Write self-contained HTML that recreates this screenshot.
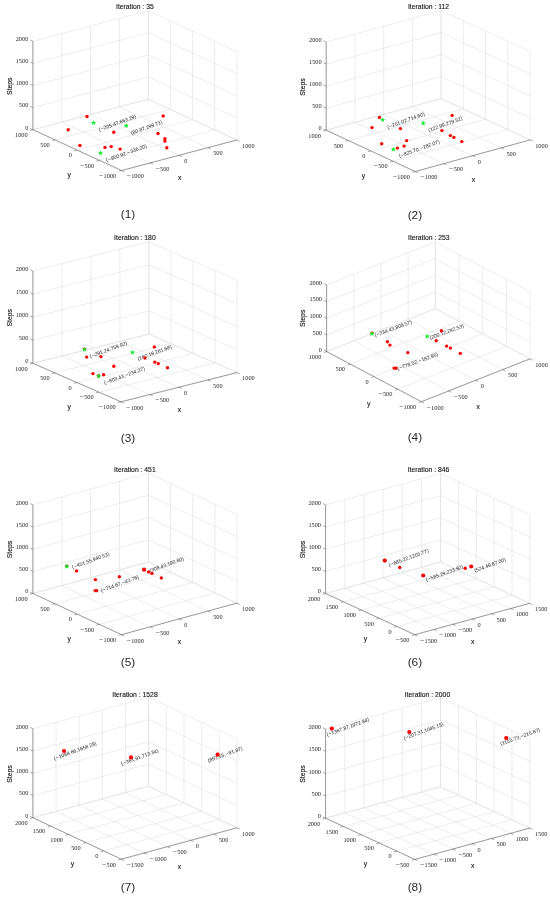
<!DOCTYPE html>
<html><head><meta charset="utf-8"><title>Figure</title>
<style>html,body{margin:0;padding:0;background:#fff}svg{display:block}</style></head>
<body>
<svg width="550" height="899" viewBox="0 0 550 899">
<rect width="550" height="899" fill="#ffffff"/>
<g>
<line x1="121.5" y1="170.5" x2="32.9" y2="129.7" stroke="#dadada" stroke-width="0.5"/>
<line x1="150.35" y1="162.88" x2="61.75" y2="122.07" stroke="#dadada" stroke-width="0.5"/>
<line x1="179.2" y1="155.25" x2="90.6" y2="114.45" stroke="#dadada" stroke-width="0.5"/>
<line x1="208.05" y1="147.62" x2="119.45" y2="106.82" stroke="#dadada" stroke-width="0.5"/>
<line x1="236.9" y1="140" x2="148.3" y2="99.2" stroke="#dadada" stroke-width="0.5"/>
<line x1="121.5" y1="170.5" x2="236.9" y2="140" stroke="#dadada" stroke-width="0.5"/>
<line x1="99.35" y1="160.3" x2="214.75" y2="129.8" stroke="#dadada" stroke-width="0.5"/>
<line x1="77.2" y1="150.1" x2="192.6" y2="119.6" stroke="#dadada" stroke-width="0.5"/>
<line x1="55.05" y1="139.9" x2="170.45" y2="109.4" stroke="#dadada" stroke-width="0.5"/>
<line x1="32.9" y1="129.7" x2="148.3" y2="99.2" stroke="#dadada" stroke-width="0.5"/>
<line x1="32.9" y1="129.7" x2="32.9" y2="41.2" stroke="#dadada" stroke-width="0.5"/>
<line x1="61.75" y1="122.07" x2="61.75" y2="33.57" stroke="#dadada" stroke-width="0.5"/>
<line x1="90.6" y1="114.45" x2="90.6" y2="25.95" stroke="#dadada" stroke-width="0.5"/>
<line x1="119.45" y1="106.82" x2="119.45" y2="18.32" stroke="#dadada" stroke-width="0.5"/>
<line x1="148.3" y1="99.2" x2="148.3" y2="10.7" stroke="#dadada" stroke-width="0.5"/>
<line x1="32.9" y1="129.7" x2="148.3" y2="99.2" stroke="#dadada" stroke-width="0.5"/>
<line x1="32.9" y1="107.57" x2="148.3" y2="77.07" stroke="#dadada" stroke-width="0.5"/>
<line x1="32.9" y1="85.45" x2="148.3" y2="54.95" stroke="#dadada" stroke-width="0.5"/>
<line x1="32.9" y1="63.32" x2="148.3" y2="32.82" stroke="#dadada" stroke-width="0.5"/>
<line x1="32.9" y1="41.2" x2="148.3" y2="10.7" stroke="#dadada" stroke-width="0.5"/>
<line x1="236.9" y1="140" x2="236.9" y2="51.5" stroke="#dadada" stroke-width="0.5"/>
<line x1="214.75" y1="129.8" x2="214.75" y2="41.3" stroke="#dadada" stroke-width="0.5"/>
<line x1="192.6" y1="119.6" x2="192.6" y2="31.1" stroke="#dadada" stroke-width="0.5"/>
<line x1="170.45" y1="109.4" x2="170.45" y2="20.9" stroke="#dadada" stroke-width="0.5"/>
<line x1="148.3" y1="99.2" x2="148.3" y2="10.7" stroke="#dadada" stroke-width="0.5"/>
<line x1="236.9" y1="140" x2="148.3" y2="99.2" stroke="#dadada" stroke-width="0.5"/>
<line x1="236.9" y1="117.88" x2="148.3" y2="77.07" stroke="#dadada" stroke-width="0.5"/>
<line x1="236.9" y1="95.75" x2="148.3" y2="54.95" stroke="#dadada" stroke-width="0.5"/>
<line x1="236.9" y1="73.62" x2="148.3" y2="32.82" stroke="#dadada" stroke-width="0.5"/>
<line x1="236.9" y1="51.5" x2="148.3" y2="10.7" stroke="#dadada" stroke-width="0.5"/>
<line x1="32.9" y1="129.7" x2="32.9" y2="41.2" stroke="#555555" stroke-width="0.55"/>
<line x1="32.9" y1="129.7" x2="121.5" y2="170.5" stroke="#555555" stroke-width="0.55"/>
<line x1="121.5" y1="170.5" x2="236.9" y2="140" stroke="#555555" stroke-width="0.55"/>
<line x1="32.9" y1="129.7" x2="30.18" y2="128.45" stroke="#555555" stroke-width="0.5"/>
<line x1="32.9" y1="107.57" x2="30.18" y2="106.32" stroke="#555555" stroke-width="0.5"/>
<line x1="32.9" y1="85.45" x2="30.18" y2="84.2" stroke="#555555" stroke-width="0.5"/>
<line x1="32.9" y1="63.32" x2="30.18" y2="62.07" stroke="#555555" stroke-width="0.5"/>
<line x1="32.9" y1="41.2" x2="30.18" y2="39.95" stroke="#555555" stroke-width="0.5"/>
<line x1="121.5" y1="170.5" x2="118.6" y2="171.27" stroke="#555555" stroke-width="0.5"/>
<line x1="99.35" y1="160.3" x2="96.45" y2="161.07" stroke="#555555" stroke-width="0.5"/>
<line x1="77.2" y1="150.1" x2="74.3" y2="150.87" stroke="#555555" stroke-width="0.5"/>
<line x1="55.05" y1="139.9" x2="52.15" y2="140.67" stroke="#555555" stroke-width="0.5"/>
<line x1="32.9" y1="129.7" x2="30" y2="130.47" stroke="#555555" stroke-width="0.5"/>
<line x1="121.5" y1="170.5" x2="124.22" y2="171.75" stroke="#555555" stroke-width="0.5"/>
<line x1="150.35" y1="162.88" x2="153.07" y2="164.13" stroke="#555555" stroke-width="0.5"/>
<line x1="179.2" y1="155.25" x2="181.92" y2="156.5" stroke="#555555" stroke-width="0.5"/>
<line x1="208.05" y1="147.62" x2="210.77" y2="148.88" stroke="#555555" stroke-width="0.5"/>
<line x1="236.9" y1="140" x2="239.62" y2="141.25" stroke="#555555" stroke-width="0.5"/>
</g>
<g font-family="'Liberation Serif','DejaVu Serif',serif" font-size="6.3" fill="#262626">
<text x="28.3" y="129.6" text-anchor="end">0</text>
<text x="28.3" y="107.47" text-anchor="end">500</text>
<text x="28.3" y="85.35" text-anchor="end">1000</text>
<text x="28.3" y="63.22" text-anchor="end">1500</text>
<text x="28.3" y="41.1" text-anchor="end">2000</text>
<text x="116.2" y="177.8" text-anchor="end"><tspan font-size="7.6">−</tspan><tspan dx="0.3">1000</tspan></text>
<text x="94.05" y="167.6" text-anchor="end"><tspan font-size="7.6">−</tspan><tspan dx="0.3">500</tspan></text>
<text x="71.9" y="157.4" text-anchor="end">0</text>
<text x="49.75" y="147.2" text-anchor="end">500</text>
<text x="27.6" y="137" text-anchor="end">1000</text>
<text x="126.6" y="178.3"><tspan font-size="7.6">−</tspan><tspan dx="0.3">1000</tspan></text>
<text x="155.45" y="170.67"><tspan font-size="7.6">−</tspan><tspan dx="0.3">500</tspan></text>
<text x="184.3" y="163.05">0</text>
<text x="213.15" y="155.42">500</text>
<text x="242" y="147.8">1000</text>
</g>
<g font-family="'Liberation Sans',Arial,sans-serif" font-size="6.8" fill="#151515" stroke="#151515" stroke-width="0.12" text-anchor="middle">
<text x="134.9" y="8.7">Iteration : 35</text>
<text x="179.6" y="180.2">x</text>
<text x="69.2" y="177">y</text>
<text transform="translate(9.2 86.2) rotate(-90)" x="0" y="2.4">Steps</text>
</g>
<g font-family="'Liberation Sans',Arial,sans-serif" font-size="5.1" fill="#1a1a1a" text-anchor="middle">
<text transform="translate(117.7 123.7) rotate(-20)" x="0" y="1.0">(<tspan dx="0.2">−</tspan><tspan dx="0.3">2</tspan>05.47,663.29)</text>
<text transform="translate(147 128.2) rotate(-20)" x="0" y="1.0">(80.87,299.71)</text>
<text transform="translate(126.6 153.8) rotate(-20)" x="0" y="1.0">(<tspan dx="0.2">−</tspan><tspan dx="0.3">8</tspan>50.92,<tspan dx="0.2">−</tspan><tspan dx="0.3">3</tspan>36.20)</text>
</g>
<g fill="#ff0000">
<circle cx="87" cy="116.5" r="1.7"/>
<circle cx="68.2" cy="129.8" r="1.7"/>
<circle cx="79.9" cy="145.5" r="1.7"/>
<circle cx="113.8" cy="132.2" r="1.7"/>
<circle cx="105" cy="147.4" r="1.7"/>
<circle cx="111.2" cy="146.6" r="1.7"/>
<circle cx="120.1" cy="149.1" r="1.7"/>
<circle cx="163.2" cy="116" r="1.7"/>
<circle cx="158" cy="133.5" r="1.7"/>
<circle cx="164.9" cy="138.8" r="1.7"/>
<circle cx="164.9" cy="141.1" r="1.7"/>
<circle cx="166.8" cy="147.7" r="1.7"/>
</g>
<polygon points="93.6,120.15 94.31,121.93 96.22,122.05 94.74,123.27 95.22,125.12 93.6,124.1 91.98,125.12 92.46,123.27 90.98,122.05 92.89,121.93" fill="#12ee30"/>
<polygon points="126.2,122.95 126.91,124.73 128.82,124.85 127.34,126.07 127.82,127.92 126.2,126.9 124.58,127.92 125.06,126.07 123.58,124.85 125.49,124.73" fill="#12ee30"/>
<polygon points="100.5,150.35 101.21,152.13 103.12,152.25 101.64,153.47 102.12,155.32 100.5,154.3 98.88,155.32 99.36,153.47 97.88,152.25 99.79,152.13" fill="#12ee30"/>
<text x="128" y="218.3" font-family="'Liberation Sans',Arial,sans-serif" font-size="11.8" fill="#2a2a2a" text-anchor="middle">(1)</text>
<g>
<line x1="415.2" y1="171.5" x2="326.2" y2="130.2" stroke="#dadada" stroke-width="0.5"/>
<line x1="443.93" y1="163.6" x2="354.93" y2="122.3" stroke="#dadada" stroke-width="0.5"/>
<line x1="472.65" y1="155.7" x2="383.65" y2="114.4" stroke="#dadada" stroke-width="0.5"/>
<line x1="501.38" y1="147.8" x2="412.38" y2="106.5" stroke="#dadada" stroke-width="0.5"/>
<line x1="530.1" y1="139.9" x2="441.1" y2="98.6" stroke="#dadada" stroke-width="0.5"/>
<line x1="415.2" y1="171.5" x2="530.1" y2="139.9" stroke="#dadada" stroke-width="0.5"/>
<line x1="392.95" y1="161.18" x2="507.85" y2="129.57" stroke="#dadada" stroke-width="0.5"/>
<line x1="370.7" y1="150.85" x2="485.6" y2="119.25" stroke="#dadada" stroke-width="0.5"/>
<line x1="348.45" y1="140.52" x2="463.35" y2="108.92" stroke="#dadada" stroke-width="0.5"/>
<line x1="326.2" y1="130.2" x2="441.1" y2="98.6" stroke="#dadada" stroke-width="0.5"/>
<line x1="326.2" y1="130.2" x2="326.2" y2="42" stroke="#dadada" stroke-width="0.5"/>
<line x1="354.93" y1="122.3" x2="354.93" y2="34.1" stroke="#dadada" stroke-width="0.5"/>
<line x1="383.65" y1="114.4" x2="383.65" y2="26.2" stroke="#dadada" stroke-width="0.5"/>
<line x1="412.38" y1="106.5" x2="412.38" y2="18.3" stroke="#dadada" stroke-width="0.5"/>
<line x1="441.1" y1="98.6" x2="441.1" y2="10.4" stroke="#dadada" stroke-width="0.5"/>
<line x1="326.2" y1="130.2" x2="441.1" y2="98.6" stroke="#dadada" stroke-width="0.5"/>
<line x1="326.2" y1="108.15" x2="441.1" y2="76.55" stroke="#dadada" stroke-width="0.5"/>
<line x1="326.2" y1="86.1" x2="441.1" y2="54.5" stroke="#dadada" stroke-width="0.5"/>
<line x1="326.2" y1="64.05" x2="441.1" y2="32.45" stroke="#dadada" stroke-width="0.5"/>
<line x1="326.2" y1="42" x2="441.1" y2="10.4" stroke="#dadada" stroke-width="0.5"/>
<line x1="530.1" y1="139.9" x2="530.1" y2="51.7" stroke="#dadada" stroke-width="0.5"/>
<line x1="507.85" y1="129.57" x2="507.85" y2="41.37" stroke="#dadada" stroke-width="0.5"/>
<line x1="485.6" y1="119.25" x2="485.6" y2="31.05" stroke="#dadada" stroke-width="0.5"/>
<line x1="463.35" y1="108.92" x2="463.35" y2="20.72" stroke="#dadada" stroke-width="0.5"/>
<line x1="441.1" y1="98.6" x2="441.1" y2="10.4" stroke="#dadada" stroke-width="0.5"/>
<line x1="530.1" y1="139.9" x2="441.1" y2="98.6" stroke="#dadada" stroke-width="0.5"/>
<line x1="530.1" y1="117.85" x2="441.1" y2="76.55" stroke="#dadada" stroke-width="0.5"/>
<line x1="530.1" y1="95.8" x2="441.1" y2="54.5" stroke="#dadada" stroke-width="0.5"/>
<line x1="530.1" y1="73.75" x2="441.1" y2="32.45" stroke="#dadada" stroke-width="0.5"/>
<line x1="530.1" y1="51.7" x2="441.1" y2="10.4" stroke="#dadada" stroke-width="0.5"/>
<line x1="326.2" y1="130.2" x2="326.2" y2="42" stroke="#555555" stroke-width="0.55"/>
<line x1="326.2" y1="130.2" x2="415.2" y2="171.5" stroke="#555555" stroke-width="0.55"/>
<line x1="415.2" y1="171.5" x2="530.1" y2="139.9" stroke="#555555" stroke-width="0.55"/>
<line x1="326.2" y1="130.2" x2="323.48" y2="128.94" stroke="#555555" stroke-width="0.5"/>
<line x1="326.2" y1="108.15" x2="323.48" y2="106.89" stroke="#555555" stroke-width="0.5"/>
<line x1="326.2" y1="86.1" x2="323.48" y2="84.84" stroke="#555555" stroke-width="0.5"/>
<line x1="326.2" y1="64.05" x2="323.48" y2="62.79" stroke="#555555" stroke-width="0.5"/>
<line x1="326.2" y1="42" x2="323.48" y2="40.74" stroke="#555555" stroke-width="0.5"/>
<line x1="415.2" y1="171.5" x2="412.31" y2="172.3" stroke="#555555" stroke-width="0.5"/>
<line x1="392.95" y1="161.18" x2="390.06" y2="161.97" stroke="#555555" stroke-width="0.5"/>
<line x1="370.7" y1="150.85" x2="367.81" y2="151.65" stroke="#555555" stroke-width="0.5"/>
<line x1="348.45" y1="140.52" x2="345.56" y2="141.32" stroke="#555555" stroke-width="0.5"/>
<line x1="326.2" y1="130.2" x2="323.31" y2="131" stroke="#555555" stroke-width="0.5"/>
<line x1="415.2" y1="171.5" x2="417.92" y2="172.76" stroke="#555555" stroke-width="0.5"/>
<line x1="443.93" y1="163.6" x2="446.65" y2="164.86" stroke="#555555" stroke-width="0.5"/>
<line x1="472.65" y1="155.7" x2="475.37" y2="156.96" stroke="#555555" stroke-width="0.5"/>
<line x1="501.38" y1="147.8" x2="504.1" y2="149.06" stroke="#555555" stroke-width="0.5"/>
<line x1="530.1" y1="139.9" x2="532.82" y2="141.16" stroke="#555555" stroke-width="0.5"/>
</g>
<g font-family="'Liberation Serif','DejaVu Serif',serif" font-size="6.3" fill="#262626">
<text x="321.6" y="130.1" text-anchor="end">0</text>
<text x="321.6" y="108.05" text-anchor="end">500</text>
<text x="321.6" y="86" text-anchor="end">1000</text>
<text x="321.6" y="63.95" text-anchor="end">1500</text>
<text x="321.6" y="41.9" text-anchor="end">2000</text>
<text x="409.9" y="178.8" text-anchor="end"><tspan font-size="7.6">−</tspan><tspan dx="0.3">1000</tspan></text>
<text x="387.65" y="168.47" text-anchor="end"><tspan font-size="7.6">−</tspan><tspan dx="0.3">500</tspan></text>
<text x="365.4" y="158.15" text-anchor="end">0</text>
<text x="343.15" y="147.82" text-anchor="end">500</text>
<text x="320.9" y="137.5" text-anchor="end">1000</text>
<text x="420.3" y="179.3"><tspan font-size="7.6">−</tspan><tspan dx="0.3">1000</tspan></text>
<text x="449.03" y="171.4"><tspan font-size="7.6">−</tspan><tspan dx="0.3">500</tspan></text>
<text x="477.75" y="163.5">0</text>
<text x="506.48" y="155.6">500</text>
<text x="535.2" y="147.7">1000</text>
</g>
<g font-family="'Liberation Sans',Arial,sans-serif" font-size="6.8" fill="#151515" stroke="#151515" stroke-width="0.12" text-anchor="middle">
<text x="428.5" y="8.7">Iteration : 112</text>
<text x="473.5" y="181.5">x</text>
<text x="363.5" y="177.9">y</text>
<text transform="translate(302.8 87) rotate(-90)" x="0" y="2.4">Steps</text>
</g>
<g font-family="'Liberation Sans',Arial,sans-serif" font-size="5.1" fill="#1a1a1a" text-anchor="middle">
<text transform="translate(406.1 121.2) rotate(-20)" x="0" y="1.0">(<tspan dx="0.2">−</tspan><tspan dx="0.3">2</tspan>51.02,714.60)</text>
<text transform="translate(445.6 124.9) rotate(-20)" x="0" y="1.0">(122.99,279.52)</text>
<text transform="translate(419.5 149.5) rotate(-20)" x="0" y="1.0">(<tspan dx="0.2">−</tspan><tspan dx="0.3">8</tspan>25.70,<tspan dx="0.2">−</tspan><tspan dx="0.3">2</tspan>82.07)</text>
</g>
<g fill="#ff0000">
<circle cx="379.5" cy="117.4" r="1.7"/>
<circle cx="372" cy="127.6" r="1.7"/>
<circle cx="400.4" cy="128.6" r="1.7"/>
<circle cx="381.7" cy="143.8" r="1.7"/>
<circle cx="406.6" cy="140.6" r="1.7"/>
<circle cx="404.1" cy="146.1" r="1.7"/>
<circle cx="397.4" cy="148.1" r="1.7"/>
<circle cx="452.1" cy="115.4" r="1.7"/>
<circle cx="441.9" cy="130.6" r="1.7"/>
<circle cx="450.4" cy="135.6" r="1.7"/>
<circle cx="453.9" cy="137.4" r="1.7"/>
<circle cx="461.8" cy="141.6" r="1.7"/>
</g>
<polygon points="382.7,117.15 383.41,118.93 385.32,119.05 383.84,120.27 384.32,122.12 382.7,121.1 381.08,122.12 381.56,120.27 380.08,119.05 381.99,118.93" fill="#12ee30"/>
<polygon points="423.2,120.45 423.91,122.23 425.82,122.35 424.34,123.57 424.82,125.42 423.2,124.4 421.58,125.42 422.06,123.57 420.58,122.35 422.49,122.23" fill="#12ee30"/>
<polygon points="393.4,146.55 394.11,148.33 396.02,148.45 394.54,149.67 395.02,151.52 393.4,150.5 391.78,151.52 392.26,149.67 390.78,148.45 392.69,148.33" fill="#12ee30"/>
<text x="414.9" y="218.5" font-family="'Liberation Sans',Arial,sans-serif" font-size="11.8" fill="#2a2a2a" text-anchor="middle">(2)</text>
<g>
<line x1="121" y1="401.8" x2="32.9" y2="363.3" stroke="#dadada" stroke-width="0.5"/>
<line x1="150" y1="394.5" x2="61.9" y2="356" stroke="#dadada" stroke-width="0.5"/>
<line x1="179" y1="387.2" x2="90.9" y2="348.7" stroke="#dadada" stroke-width="0.5"/>
<line x1="208" y1="379.9" x2="119.9" y2="341.4" stroke="#dadada" stroke-width="0.5"/>
<line x1="237" y1="372.6" x2="148.9" y2="334.1" stroke="#dadada" stroke-width="0.5"/>
<line x1="121" y1="401.8" x2="237" y2="372.6" stroke="#dadada" stroke-width="0.5"/>
<line x1="98.97" y1="392.18" x2="214.97" y2="362.98" stroke="#dadada" stroke-width="0.5"/>
<line x1="76.95" y1="382.55" x2="192.95" y2="353.35" stroke="#dadada" stroke-width="0.5"/>
<line x1="54.93" y1="372.93" x2="170.93" y2="343.73" stroke="#dadada" stroke-width="0.5"/>
<line x1="32.9" y1="363.3" x2="148.9" y2="334.1" stroke="#dadada" stroke-width="0.5"/>
<line x1="32.9" y1="363.3" x2="32.9" y2="271" stroke="#dadada" stroke-width="0.5"/>
<line x1="61.9" y1="356" x2="61.9" y2="263.7" stroke="#dadada" stroke-width="0.5"/>
<line x1="90.9" y1="348.7" x2="90.9" y2="256.4" stroke="#dadada" stroke-width="0.5"/>
<line x1="119.9" y1="341.4" x2="119.9" y2="249.1" stroke="#dadada" stroke-width="0.5"/>
<line x1="148.9" y1="334.1" x2="148.9" y2="241.8" stroke="#dadada" stroke-width="0.5"/>
<line x1="32.9" y1="363.3" x2="148.9" y2="334.1" stroke="#dadada" stroke-width="0.5"/>
<line x1="32.9" y1="340.23" x2="148.9" y2="311.03" stroke="#dadada" stroke-width="0.5"/>
<line x1="32.9" y1="317.15" x2="148.9" y2="287.95" stroke="#dadada" stroke-width="0.5"/>
<line x1="32.9" y1="294.08" x2="148.9" y2="264.88" stroke="#dadada" stroke-width="0.5"/>
<line x1="32.9" y1="271" x2="148.9" y2="241.8" stroke="#dadada" stroke-width="0.5"/>
<line x1="237" y1="372.6" x2="237" y2="280.3" stroke="#dadada" stroke-width="0.5"/>
<line x1="214.97" y1="362.98" x2="214.97" y2="270.68" stroke="#dadada" stroke-width="0.5"/>
<line x1="192.95" y1="353.35" x2="192.95" y2="261.05" stroke="#dadada" stroke-width="0.5"/>
<line x1="170.93" y1="343.73" x2="170.93" y2="251.43" stroke="#dadada" stroke-width="0.5"/>
<line x1="148.9" y1="334.1" x2="148.9" y2="241.8" stroke="#dadada" stroke-width="0.5"/>
<line x1="237" y1="372.6" x2="148.9" y2="334.1" stroke="#dadada" stroke-width="0.5"/>
<line x1="237" y1="349.53" x2="148.9" y2="311.03" stroke="#dadada" stroke-width="0.5"/>
<line x1="237" y1="326.45" x2="148.9" y2="287.95" stroke="#dadada" stroke-width="0.5"/>
<line x1="237" y1="303.38" x2="148.9" y2="264.88" stroke="#dadada" stroke-width="0.5"/>
<line x1="237" y1="280.3" x2="148.9" y2="241.8" stroke="#dadada" stroke-width="0.5"/>
<line x1="32.9" y1="363.3" x2="32.9" y2="271" stroke="#555555" stroke-width="0.55"/>
<line x1="32.9" y1="363.3" x2="121" y2="401.8" stroke="#555555" stroke-width="0.55"/>
<line x1="121" y1="401.8" x2="237" y2="372.6" stroke="#555555" stroke-width="0.55"/>
<line x1="32.9" y1="363.3" x2="30.15" y2="362.1" stroke="#555555" stroke-width="0.5"/>
<line x1="32.9" y1="340.23" x2="30.15" y2="339.02" stroke="#555555" stroke-width="0.5"/>
<line x1="32.9" y1="317.15" x2="30.15" y2="315.95" stroke="#555555" stroke-width="0.5"/>
<line x1="32.9" y1="294.08" x2="30.15" y2="292.87" stroke="#555555" stroke-width="0.5"/>
<line x1="32.9" y1="271" x2="30.15" y2="269.8" stroke="#555555" stroke-width="0.5"/>
<line x1="121" y1="401.8" x2="118.09" y2="402.53" stroke="#555555" stroke-width="0.5"/>
<line x1="98.97" y1="392.18" x2="96.07" y2="392.91" stroke="#555555" stroke-width="0.5"/>
<line x1="76.95" y1="382.55" x2="74.04" y2="383.28" stroke="#555555" stroke-width="0.5"/>
<line x1="54.93" y1="372.93" x2="52.02" y2="373.66" stroke="#555555" stroke-width="0.5"/>
<line x1="32.9" y1="363.3" x2="29.99" y2="364.03" stroke="#555555" stroke-width="0.5"/>
<line x1="121" y1="401.8" x2="123.75" y2="403" stroke="#555555" stroke-width="0.5"/>
<line x1="150" y1="394.5" x2="152.75" y2="395.7" stroke="#555555" stroke-width="0.5"/>
<line x1="179" y1="387.2" x2="181.75" y2="388.4" stroke="#555555" stroke-width="0.5"/>
<line x1="208" y1="379.9" x2="210.75" y2="381.1" stroke="#555555" stroke-width="0.5"/>
<line x1="237" y1="372.6" x2="239.75" y2="373.8" stroke="#555555" stroke-width="0.5"/>
</g>
<g font-family="'Liberation Serif','DejaVu Serif',serif" font-size="6.3" fill="#262626">
<text x="28.3" y="363.2" text-anchor="end">0</text>
<text x="28.3" y="340.13" text-anchor="end">500</text>
<text x="28.3" y="317.05" text-anchor="end">1000</text>
<text x="28.3" y="293.98" text-anchor="end">1500</text>
<text x="28.3" y="270.9" text-anchor="end">2000</text>
<text x="115.7" y="409.1" text-anchor="end"><tspan font-size="7.6">−</tspan><tspan dx="0.3">1000</tspan></text>
<text x="93.67" y="399.48" text-anchor="end"><tspan font-size="7.6">−</tspan><tspan dx="0.3">500</tspan></text>
<text x="71.65" y="389.85" text-anchor="end">0</text>
<text x="49.63" y="380.23" text-anchor="end">500</text>
<text x="27.6" y="370.6" text-anchor="end">1000</text>
<text x="126.1" y="409.6"><tspan font-size="7.6">−</tspan><tspan dx="0.3">1000</tspan></text>
<text x="155.1" y="402.3"><tspan font-size="7.6">−</tspan><tspan dx="0.3">500</tspan></text>
<text x="184.1" y="395">0</text>
<text x="213.1" y="387.7">500</text>
<text x="242.1" y="380.4">1000</text>
</g>
<g font-family="'Liberation Sans',Arial,sans-serif" font-size="6.8" fill="#151515" stroke="#151515" stroke-width="0.12" text-anchor="middle">
<text x="134.9" y="240.2">Iteration : 180</text>
<text x="179.5" y="412.2">x</text>
<text x="69.2" y="408.9">y</text>
<text transform="translate(9.5 317.8) rotate(-90)" x="0" y="2.4">Steps</text>
</g>
<g font-family="'Liberation Sans',Arial,sans-serif" font-size="5.1" fill="#1a1a1a" text-anchor="middle">
<text transform="translate(108.6 350.4) rotate(-20)" x="0" y="1.0">(<tspan dx="0.2">−</tspan><tspan dx="0.3">2</tspan>91.24,759.92)</text>
<text transform="translate(154.8 353.4) rotate(-20)" x="0" y="1.0">(160.19,261.68)</text>
<text transform="translate(124.7 376.3) rotate(-20)" x="0" y="1.0">(<tspan dx="0.2">−</tspan><tspan dx="0.3">8</tspan>03.43,<tspan dx="0.2">−</tspan><tspan dx="0.3">2</tspan>34.27)</text>
</g>
<g fill="#ff0000">
<circle cx="84.5" cy="349.1" r="1.7"/>
<circle cx="98.6" cy="375.8" r="1.7"/>
<circle cx="86.7" cy="357.1" r="1.7"/>
<circle cx="100.9" cy="356.6" r="1.7"/>
<circle cx="113.8" cy="366.2" r="1.7"/>
<circle cx="92.9" cy="373.6" r="1.7"/>
<circle cx="103.6" cy="374.8" r="1.7"/>
<circle cx="154.3" cy="346.9" r="1.7"/>
<circle cx="144.9" cy="358.1" r="1.7"/>
<circle cx="154.8" cy="362.1" r="1.7"/>
<circle cx="158.3" cy="363.6" r="1.7"/>
<circle cx="167.5" cy="367.8" r="1.7"/>
</g>
<polygon points="84.4,346.85 85.11,348.63 87.02,348.75 85.54,349.97 86.02,351.82 84.4,350.8 82.78,351.82 83.26,349.97 81.78,348.75 83.69,348.63" fill="#12ee30"/>
<polygon points="132.4,349.65 133.11,351.43 135.02,351.55 133.54,352.77 134.02,354.62 132.4,353.6 130.78,354.62 131.26,352.77 129.78,351.55 131.69,351.43" fill="#12ee30"/>
<polygon points="98.6,373.35 99.31,375.13 101.22,375.25 99.74,376.47 100.22,378.32 98.6,377.3 96.98,378.32 97.46,376.47 95.98,375.25 97.89,375.13" fill="#12ee30"/>
<text x="128" y="441.6" font-family="'Liberation Sans',Arial,sans-serif" font-size="11.8" fill="#2a2a2a" text-anchor="middle">(3)</text>
<g>
<line x1="421.4" y1="401.7" x2="326.6" y2="351.6" stroke="#dadada" stroke-width="0.5"/>
<line x1="448.57" y1="390.98" x2="353.78" y2="340.88" stroke="#dadada" stroke-width="0.5"/>
<line x1="475.75" y1="380.25" x2="380.95" y2="330.15" stroke="#dadada" stroke-width="0.5"/>
<line x1="502.93" y1="369.52" x2="408.13" y2="319.43" stroke="#dadada" stroke-width="0.5"/>
<line x1="530.1" y1="358.8" x2="435.3" y2="308.7" stroke="#dadada" stroke-width="0.5"/>
<line x1="421.4" y1="401.7" x2="530.1" y2="358.8" stroke="#dadada" stroke-width="0.5"/>
<line x1="397.7" y1="389.18" x2="506.4" y2="346.28" stroke="#dadada" stroke-width="0.5"/>
<line x1="374" y1="376.65" x2="482.7" y2="333.75" stroke="#dadada" stroke-width="0.5"/>
<line x1="350.3" y1="364.12" x2="459" y2="321.23" stroke="#dadada" stroke-width="0.5"/>
<line x1="326.6" y1="351.6" x2="435.3" y2="308.7" stroke="#dadada" stroke-width="0.5"/>
<line x1="326.6" y1="351.6" x2="326.6" y2="284.8" stroke="#dadada" stroke-width="0.5"/>
<line x1="353.78" y1="340.88" x2="353.78" y2="274.08" stroke="#dadada" stroke-width="0.5"/>
<line x1="380.95" y1="330.15" x2="380.95" y2="263.35" stroke="#dadada" stroke-width="0.5"/>
<line x1="408.13" y1="319.43" x2="408.13" y2="252.62" stroke="#dadada" stroke-width="0.5"/>
<line x1="435.3" y1="308.7" x2="435.3" y2="241.9" stroke="#dadada" stroke-width="0.5"/>
<line x1="326.6" y1="351.6" x2="435.3" y2="308.7" stroke="#dadada" stroke-width="0.5"/>
<line x1="326.6" y1="334.9" x2="435.3" y2="292" stroke="#dadada" stroke-width="0.5"/>
<line x1="326.6" y1="318.2" x2="435.3" y2="275.3" stroke="#dadada" stroke-width="0.5"/>
<line x1="326.6" y1="301.5" x2="435.3" y2="258.6" stroke="#dadada" stroke-width="0.5"/>
<line x1="326.6" y1="284.8" x2="435.3" y2="241.9" stroke="#dadada" stroke-width="0.5"/>
<line x1="530.1" y1="358.8" x2="530.1" y2="292" stroke="#dadada" stroke-width="0.5"/>
<line x1="506.4" y1="346.28" x2="506.4" y2="279.48" stroke="#dadada" stroke-width="0.5"/>
<line x1="482.7" y1="333.75" x2="482.7" y2="266.95" stroke="#dadada" stroke-width="0.5"/>
<line x1="459" y1="321.23" x2="459" y2="254.43" stroke="#dadada" stroke-width="0.5"/>
<line x1="435.3" y1="308.7" x2="435.3" y2="241.9" stroke="#dadada" stroke-width="0.5"/>
<line x1="530.1" y1="358.8" x2="435.3" y2="308.7" stroke="#dadada" stroke-width="0.5"/>
<line x1="530.1" y1="342.1" x2="435.3" y2="292" stroke="#dadada" stroke-width="0.5"/>
<line x1="530.1" y1="325.4" x2="435.3" y2="275.3" stroke="#dadada" stroke-width="0.5"/>
<line x1="530.1" y1="308.7" x2="435.3" y2="258.6" stroke="#dadada" stroke-width="0.5"/>
<line x1="530.1" y1="292" x2="435.3" y2="241.9" stroke="#dadada" stroke-width="0.5"/>
<line x1="326.6" y1="351.6" x2="326.6" y2="284.8" stroke="#555555" stroke-width="0.55"/>
<line x1="326.6" y1="351.6" x2="421.4" y2="401.7" stroke="#555555" stroke-width="0.55"/>
<line x1="421.4" y1="401.7" x2="530.1" y2="358.8" stroke="#555555" stroke-width="0.55"/>
<line x1="326.6" y1="351.6" x2="323.95" y2="350.2" stroke="#555555" stroke-width="0.5"/>
<line x1="326.6" y1="334.9" x2="323.95" y2="333.5" stroke="#555555" stroke-width="0.5"/>
<line x1="326.6" y1="318.2" x2="323.95" y2="316.8" stroke="#555555" stroke-width="0.5"/>
<line x1="326.6" y1="301.5" x2="323.95" y2="300.1" stroke="#555555" stroke-width="0.5"/>
<line x1="326.6" y1="284.8" x2="323.95" y2="283.4" stroke="#555555" stroke-width="0.5"/>
<line x1="421.4" y1="401.7" x2="418.61" y2="402.8" stroke="#555555" stroke-width="0.5"/>
<line x1="397.7" y1="389.18" x2="394.91" y2="390.28" stroke="#555555" stroke-width="0.5"/>
<line x1="374" y1="376.65" x2="371.21" y2="377.75" stroke="#555555" stroke-width="0.5"/>
<line x1="350.3" y1="364.12" x2="347.51" y2="365.23" stroke="#555555" stroke-width="0.5"/>
<line x1="326.6" y1="351.6" x2="323.81" y2="352.7" stroke="#555555" stroke-width="0.5"/>
<line x1="421.4" y1="401.7" x2="424.05" y2="403.1" stroke="#555555" stroke-width="0.5"/>
<line x1="448.57" y1="390.98" x2="451.23" y2="392.38" stroke="#555555" stroke-width="0.5"/>
<line x1="475.75" y1="380.25" x2="478.4" y2="381.65" stroke="#555555" stroke-width="0.5"/>
<line x1="502.93" y1="369.52" x2="505.58" y2="370.93" stroke="#555555" stroke-width="0.5"/>
<line x1="530.1" y1="358.8" x2="532.75" y2="360.2" stroke="#555555" stroke-width="0.5"/>
</g>
<g font-family="'Liberation Serif','DejaVu Serif',serif" font-size="6.3" fill="#262626">
<text x="322" y="351.5" text-anchor="end">0</text>
<text x="322" y="334.8" text-anchor="end">500</text>
<text x="322" y="318.1" text-anchor="end">1000</text>
<text x="322" y="301.4" text-anchor="end">1500</text>
<text x="322" y="284.7" text-anchor="end">2000</text>
<text x="416.1" y="409" text-anchor="end"><tspan font-size="7.6">−</tspan><tspan dx="0.3">1000</tspan></text>
<text x="392.4" y="396.48" text-anchor="end"><tspan font-size="7.6">−</tspan><tspan dx="0.3">500</tspan></text>
<text x="368.7" y="383.95" text-anchor="end">0</text>
<text x="345" y="371.43" text-anchor="end">500</text>
<text x="321.3" y="358.9" text-anchor="end">1000</text>
<text x="426.5" y="409.5"><tspan font-size="7.6">−</tspan><tspan dx="0.3">1000</tspan></text>
<text x="453.68" y="398.78"><tspan font-size="7.6">−</tspan><tspan dx="0.3">500</tspan></text>
<text x="480.85" y="388.05">0</text>
<text x="508.03" y="377.32">500</text>
<text x="535.2" y="366.6">1000</text>
</g>
<g font-family="'Liberation Sans',Arial,sans-serif" font-size="6.8" fill="#151515" stroke="#151515" stroke-width="0.12" text-anchor="middle">
<text x="428.8" y="240.2">Iteration : 253</text>
<text x="478.3" y="408.5">x</text>
<text x="368.7" y="405.9">y</text>
<text transform="translate(303 318.4) rotate(-90)" x="0" y="2.4">Steps</text>
</g>
<g font-family="'Liberation Sans',Arial,sans-serif" font-size="5.1" fill="#1a1a1a" text-anchor="middle">
<text transform="translate(393.4 329.2) rotate(-20)" x="0" y="1.0">(<tspan dx="0.2">−</tspan><tspan dx="0.3">3</tspan>34.43,808.57)</text>
<text transform="translate(446.9 332.4) rotate(-20)" x="0" y="1.0">(200.12,242.53)</text>
<text transform="translate(417.9 362.1) rotate(-20)" x="0" y="1.0">(<tspan dx="0.2">−</tspan><tspan dx="0.3">7</tspan>79.52,<tspan dx="0.2">−</tspan><tspan dx="0.3">1</tspan>82.95)</text>
</g>
<g fill="#ff0000">
<circle cx="372" cy="333.2" r="1.7"/>
<circle cx="387.4" cy="341.7" r="1.7"/>
<circle cx="389.9" cy="345.1" r="1.7"/>
<circle cx="407.8" cy="352.6" r="1.7"/>
<circle cx="394.1" cy="368.1" r="1.7"/>
<circle cx="395.9" cy="368.3" r="1.7"/>
<circle cx="441.4" cy="330.7" r="1.7"/>
<circle cx="436.2" cy="340.7" r="1.7"/>
<circle cx="446.6" cy="346.1" r="1.7"/>
<circle cx="450.4" cy="348.1" r="1.7"/>
<circle cx="460.3" cy="353.4" r="1.7"/>
</g>
<polygon points="372,330.95 372.71,332.73 374.62,332.85 373.14,334.07 373.62,335.92 372,334.9 370.38,335.92 370.86,334.07 369.38,332.85 371.29,332.73" fill="#12ee30"/>
<polygon points="427.2,333.65 427.91,335.43 429.82,335.55 428.34,336.77 428.82,338.62 427.2,337.6 425.58,338.62 426.06,336.77 424.58,335.55 426.49,335.43" fill="#12ee30"/>
<text x="414.9" y="441.2" font-family="'Liberation Sans',Arial,sans-serif" font-size="11.8" fill="#2a2a2a" text-anchor="middle">(4)</text>
<g>
<line x1="121.5" y1="634.7" x2="32.9" y2="593.5" stroke="#dadada" stroke-width="0.5"/>
<line x1="150.38" y1="626.8" x2="61.78" y2="585.6" stroke="#dadada" stroke-width="0.5"/>
<line x1="179.25" y1="618.9" x2="90.65" y2="577.7" stroke="#dadada" stroke-width="0.5"/>
<line x1="208.12" y1="611" x2="119.53" y2="569.8" stroke="#dadada" stroke-width="0.5"/>
<line x1="237" y1="603.1" x2="148.4" y2="561.9" stroke="#dadada" stroke-width="0.5"/>
<line x1="121.5" y1="634.7" x2="237" y2="603.1" stroke="#dadada" stroke-width="0.5"/>
<line x1="99.35" y1="624.4" x2="214.85" y2="592.8" stroke="#dadada" stroke-width="0.5"/>
<line x1="77.2" y1="614.1" x2="192.7" y2="582.5" stroke="#dadada" stroke-width="0.5"/>
<line x1="55.05" y1="603.8" x2="170.55" y2="572.2" stroke="#dadada" stroke-width="0.5"/>
<line x1="32.9" y1="593.5" x2="148.4" y2="561.9" stroke="#dadada" stroke-width="0.5"/>
<line x1="32.9" y1="593.5" x2="32.9" y2="504.9" stroke="#dadada" stroke-width="0.5"/>
<line x1="61.78" y1="585.6" x2="61.78" y2="497" stroke="#dadada" stroke-width="0.5"/>
<line x1="90.65" y1="577.7" x2="90.65" y2="489.1" stroke="#dadada" stroke-width="0.5"/>
<line x1="119.53" y1="569.8" x2="119.53" y2="481.2" stroke="#dadada" stroke-width="0.5"/>
<line x1="148.4" y1="561.9" x2="148.4" y2="473.3" stroke="#dadada" stroke-width="0.5"/>
<line x1="32.9" y1="593.5" x2="148.4" y2="561.9" stroke="#dadada" stroke-width="0.5"/>
<line x1="32.9" y1="571.35" x2="148.4" y2="539.75" stroke="#dadada" stroke-width="0.5"/>
<line x1="32.9" y1="549.2" x2="148.4" y2="517.6" stroke="#dadada" stroke-width="0.5"/>
<line x1="32.9" y1="527.05" x2="148.4" y2="495.45" stroke="#dadada" stroke-width="0.5"/>
<line x1="32.9" y1="504.9" x2="148.4" y2="473.3" stroke="#dadada" stroke-width="0.5"/>
<line x1="237" y1="603.1" x2="237" y2="514.5" stroke="#dadada" stroke-width="0.5"/>
<line x1="214.85" y1="592.8" x2="214.85" y2="504.2" stroke="#dadada" stroke-width="0.5"/>
<line x1="192.7" y1="582.5" x2="192.7" y2="493.9" stroke="#dadada" stroke-width="0.5"/>
<line x1="170.55" y1="572.2" x2="170.55" y2="483.6" stroke="#dadada" stroke-width="0.5"/>
<line x1="148.4" y1="561.9" x2="148.4" y2="473.3" stroke="#dadada" stroke-width="0.5"/>
<line x1="237" y1="603.1" x2="148.4" y2="561.9" stroke="#dadada" stroke-width="0.5"/>
<line x1="237" y1="580.95" x2="148.4" y2="539.75" stroke="#dadada" stroke-width="0.5"/>
<line x1="237" y1="558.8" x2="148.4" y2="517.6" stroke="#dadada" stroke-width="0.5"/>
<line x1="237" y1="536.65" x2="148.4" y2="495.45" stroke="#dadada" stroke-width="0.5"/>
<line x1="237" y1="514.5" x2="148.4" y2="473.3" stroke="#dadada" stroke-width="0.5"/>
<line x1="32.9" y1="593.5" x2="32.9" y2="504.9" stroke="#555555" stroke-width="0.55"/>
<line x1="32.9" y1="593.5" x2="121.5" y2="634.7" stroke="#555555" stroke-width="0.55"/>
<line x1="121.5" y1="634.7" x2="237" y2="603.1" stroke="#555555" stroke-width="0.55"/>
<line x1="32.9" y1="593.5" x2="30.18" y2="592.24" stroke="#555555" stroke-width="0.5"/>
<line x1="32.9" y1="571.35" x2="30.18" y2="570.09" stroke="#555555" stroke-width="0.5"/>
<line x1="32.9" y1="549.2" x2="30.18" y2="547.94" stroke="#555555" stroke-width="0.5"/>
<line x1="32.9" y1="527.05" x2="30.18" y2="525.79" stroke="#555555" stroke-width="0.5"/>
<line x1="32.9" y1="504.9" x2="30.18" y2="503.64" stroke="#555555" stroke-width="0.5"/>
<line x1="121.5" y1="634.7" x2="118.61" y2="635.49" stroke="#555555" stroke-width="0.5"/>
<line x1="99.35" y1="624.4" x2="96.46" y2="625.19" stroke="#555555" stroke-width="0.5"/>
<line x1="77.2" y1="614.1" x2="74.31" y2="614.89" stroke="#555555" stroke-width="0.5"/>
<line x1="55.05" y1="603.8" x2="52.16" y2="604.59" stroke="#555555" stroke-width="0.5"/>
<line x1="32.9" y1="593.5" x2="30.01" y2="594.29" stroke="#555555" stroke-width="0.5"/>
<line x1="121.5" y1="634.7" x2="124.22" y2="635.96" stroke="#555555" stroke-width="0.5"/>
<line x1="150.38" y1="626.8" x2="153.1" y2="628.06" stroke="#555555" stroke-width="0.5"/>
<line x1="179.25" y1="618.9" x2="181.97" y2="620.16" stroke="#555555" stroke-width="0.5"/>
<line x1="208.12" y1="611" x2="210.85" y2="612.26" stroke="#555555" stroke-width="0.5"/>
<line x1="237" y1="603.1" x2="239.72" y2="604.36" stroke="#555555" stroke-width="0.5"/>
</g>
<g font-family="'Liberation Serif','DejaVu Serif',serif" font-size="6.3" fill="#262626">
<text x="28.3" y="593.4" text-anchor="end">0</text>
<text x="28.3" y="571.25" text-anchor="end">500</text>
<text x="28.3" y="549.1" text-anchor="end">1000</text>
<text x="28.3" y="526.95" text-anchor="end">1500</text>
<text x="28.3" y="504.8" text-anchor="end">2000</text>
<text x="116.2" y="642" text-anchor="end"><tspan font-size="7.6">−</tspan><tspan dx="0.3">1000</tspan></text>
<text x="94.05" y="631.7" text-anchor="end"><tspan font-size="7.6">−</tspan><tspan dx="0.3">500</tspan></text>
<text x="71.9" y="621.4" text-anchor="end">0</text>
<text x="49.75" y="611.1" text-anchor="end">500</text>
<text x="27.6" y="600.8" text-anchor="end">1000</text>
<text x="126.6" y="642.5"><tspan font-size="7.6">−</tspan><tspan dx="0.3">1000</tspan></text>
<text x="155.47" y="634.6"><tspan font-size="7.6">−</tspan><tspan dx="0.3">500</tspan></text>
<text x="184.35" y="626.7">0</text>
<text x="213.22" y="618.8">500</text>
<text x="242.1" y="610.9">1000</text>
</g>
<g font-family="'Liberation Sans',Arial,sans-serif" font-size="6.8" fill="#151515" stroke="#151515" stroke-width="0.12" text-anchor="middle">
<text x="134.9" y="472.4">Iteration : 451</text>
<text x="179.5" y="644.2">x</text>
<text x="69.2" y="640.9">y</text>
<text transform="translate(9.5 549.6) rotate(-90)" x="0" y="2.4">Steps</text>
</g>
<g font-family="'Liberation Sans',Arial,sans-serif" font-size="5.1" fill="#1a1a1a" text-anchor="middle">
<text transform="translate(90.9 561.2) rotate(-20)" x="0" y="1.0">(<tspan dx="0.2">−</tspan><tspan dx="0.3">4</tspan>51.55,940.53)</text>
<text transform="translate(166.9 565.3) rotate(-20)" x="0" y="1.0">(308.43,190.60)</text>
<text transform="translate(120 584.4) rotate(-20)" x="0" y="1.0">(<tspan dx="0.2">−</tspan><tspan dx="0.3">7</tspan>14.67,<tspan dx="0.2">−</tspan><tspan dx="0.3">4</tspan>3.76)</text>
</g>
<polygon points="143.9,567.2 144.49,568.69 146.09,568.79 144.85,569.81 145.25,571.36 143.9,570.5 142.55,571.36 142.95,569.81 141.71,568.79 143.31,568.69" fill="#12ee30"/>
<g fill="#ff0000">
<circle cx="66.8" cy="566.1" r="1.7"/>
<circle cx="76.5" cy="570.9" r="1.7"/>
<circle cx="95.4" cy="579.6" r="1.7"/>
<circle cx="119.4" cy="576.7" r="1.7"/>
<circle cx="95.2" cy="590.6" r="1.7"/>
<circle cx="96.6" cy="590.6" r="1.7"/>
<circle cx="144.1" cy="569.7" r="2.1"/>
<circle cx="148.6" cy="571.9" r="1.7"/>
<circle cx="151.9" cy="573.4" r="1.7"/>
<circle cx="161.3" cy="577.9" r="1.7"/>
</g>
<polygon points="66.8,563.75 67.51,565.53 69.42,565.65 67.94,566.87 68.42,568.72 66.8,567.7 65.18,568.72 65.66,566.87 64.18,565.65 66.09,565.53" fill="#12ee30"/>
<text x="128" y="666.3" font-family="'Liberation Sans',Arial,sans-serif" font-size="11.8" fill="#2a2a2a" text-anchor="middle">(5)</text>
<g>
<line x1="414.8" y1="634.7" x2="325.6" y2="593.5" stroke="#dadada" stroke-width="0.5"/>
<line x1="433.97" y1="629.47" x2="344.77" y2="588.27" stroke="#dadada" stroke-width="0.5"/>
<line x1="453.13" y1="624.23" x2="363.93" y2="583.03" stroke="#dadada" stroke-width="0.5"/>
<line x1="472.3" y1="619" x2="383.1" y2="577.8" stroke="#dadada" stroke-width="0.5"/>
<line x1="491.47" y1="613.77" x2="402.27" y2="572.57" stroke="#dadada" stroke-width="0.5"/>
<line x1="510.63" y1="608.53" x2="421.43" y2="567.33" stroke="#dadada" stroke-width="0.5"/>
<line x1="529.8" y1="603.3" x2="440.6" y2="562.1" stroke="#dadada" stroke-width="0.5"/>
<line x1="414.8" y1="634.7" x2="529.8" y2="603.3" stroke="#dadada" stroke-width="0.5"/>
<line x1="396.96" y1="626.46" x2="511.96" y2="595.06" stroke="#dadada" stroke-width="0.5"/>
<line x1="379.12" y1="618.22" x2="494.12" y2="586.82" stroke="#dadada" stroke-width="0.5"/>
<line x1="361.28" y1="609.98" x2="476.28" y2="578.58" stroke="#dadada" stroke-width="0.5"/>
<line x1="343.44" y1="601.74" x2="458.44" y2="570.34" stroke="#dadada" stroke-width="0.5"/>
<line x1="325.6" y1="593.5" x2="440.6" y2="562.1" stroke="#dadada" stroke-width="0.5"/>
<line x1="325.6" y1="593.5" x2="325.6" y2="504.9" stroke="#dadada" stroke-width="0.5"/>
<line x1="344.77" y1="588.27" x2="344.77" y2="499.67" stroke="#dadada" stroke-width="0.5"/>
<line x1="363.93" y1="583.03" x2="363.93" y2="494.43" stroke="#dadada" stroke-width="0.5"/>
<line x1="383.1" y1="577.8" x2="383.1" y2="489.2" stroke="#dadada" stroke-width="0.5"/>
<line x1="402.27" y1="572.57" x2="402.27" y2="483.97" stroke="#dadada" stroke-width="0.5"/>
<line x1="421.43" y1="567.33" x2="421.43" y2="478.73" stroke="#dadada" stroke-width="0.5"/>
<line x1="440.6" y1="562.1" x2="440.6" y2="473.5" stroke="#dadada" stroke-width="0.5"/>
<line x1="325.6" y1="593.5" x2="440.6" y2="562.1" stroke="#dadada" stroke-width="0.5"/>
<line x1="325.6" y1="571.35" x2="440.6" y2="539.95" stroke="#dadada" stroke-width="0.5"/>
<line x1="325.6" y1="549.2" x2="440.6" y2="517.8" stroke="#dadada" stroke-width="0.5"/>
<line x1="325.6" y1="527.05" x2="440.6" y2="495.65" stroke="#dadada" stroke-width="0.5"/>
<line x1="325.6" y1="504.9" x2="440.6" y2="473.5" stroke="#dadada" stroke-width="0.5"/>
<line x1="529.8" y1="603.3" x2="529.8" y2="514.7" stroke="#dadada" stroke-width="0.5"/>
<line x1="511.96" y1="595.06" x2="511.96" y2="506.46" stroke="#dadada" stroke-width="0.5"/>
<line x1="494.12" y1="586.82" x2="494.12" y2="498.22" stroke="#dadada" stroke-width="0.5"/>
<line x1="476.28" y1="578.58" x2="476.28" y2="489.98" stroke="#dadada" stroke-width="0.5"/>
<line x1="458.44" y1="570.34" x2="458.44" y2="481.74" stroke="#dadada" stroke-width="0.5"/>
<line x1="440.6" y1="562.1" x2="440.6" y2="473.5" stroke="#dadada" stroke-width="0.5"/>
<line x1="529.8" y1="603.3" x2="440.6" y2="562.1" stroke="#dadada" stroke-width="0.5"/>
<line x1="529.8" y1="581.15" x2="440.6" y2="539.95" stroke="#dadada" stroke-width="0.5"/>
<line x1="529.8" y1="559" x2="440.6" y2="517.8" stroke="#dadada" stroke-width="0.5"/>
<line x1="529.8" y1="536.85" x2="440.6" y2="495.65" stroke="#dadada" stroke-width="0.5"/>
<line x1="529.8" y1="514.7" x2="440.6" y2="473.5" stroke="#dadada" stroke-width="0.5"/>
<line x1="325.6" y1="593.5" x2="325.6" y2="504.9" stroke="#555555" stroke-width="0.55"/>
<line x1="325.6" y1="593.5" x2="414.8" y2="634.7" stroke="#555555" stroke-width="0.55"/>
<line x1="414.8" y1="634.7" x2="529.8" y2="603.3" stroke="#555555" stroke-width="0.55"/>
<line x1="325.6" y1="593.5" x2="322.88" y2="592.24" stroke="#555555" stroke-width="0.5"/>
<line x1="325.6" y1="571.35" x2="322.88" y2="570.09" stroke="#555555" stroke-width="0.5"/>
<line x1="325.6" y1="549.2" x2="322.88" y2="547.94" stroke="#555555" stroke-width="0.5"/>
<line x1="325.6" y1="527.05" x2="322.88" y2="525.79" stroke="#555555" stroke-width="0.5"/>
<line x1="325.6" y1="504.9" x2="322.88" y2="503.64" stroke="#555555" stroke-width="0.5"/>
<line x1="414.8" y1="634.7" x2="411.91" y2="635.49" stroke="#555555" stroke-width="0.5"/>
<line x1="396.96" y1="626.46" x2="394.07" y2="627.25" stroke="#555555" stroke-width="0.5"/>
<line x1="379.12" y1="618.22" x2="376.23" y2="619.01" stroke="#555555" stroke-width="0.5"/>
<line x1="361.28" y1="609.98" x2="358.39" y2="610.77" stroke="#555555" stroke-width="0.5"/>
<line x1="343.44" y1="601.74" x2="340.55" y2="602.53" stroke="#555555" stroke-width="0.5"/>
<line x1="325.6" y1="593.5" x2="322.71" y2="594.29" stroke="#555555" stroke-width="0.5"/>
<line x1="414.8" y1="634.7" x2="417.52" y2="635.96" stroke="#555555" stroke-width="0.5"/>
<line x1="433.97" y1="629.47" x2="436.69" y2="630.72" stroke="#555555" stroke-width="0.5"/>
<line x1="453.13" y1="624.23" x2="455.86" y2="625.49" stroke="#555555" stroke-width="0.5"/>
<line x1="472.3" y1="619" x2="475.02" y2="620.26" stroke="#555555" stroke-width="0.5"/>
<line x1="491.47" y1="613.77" x2="494.19" y2="615.02" stroke="#555555" stroke-width="0.5"/>
<line x1="510.63" y1="608.53" x2="513.36" y2="609.79" stroke="#555555" stroke-width="0.5"/>
<line x1="529.8" y1="603.3" x2="532.52" y2="604.56" stroke="#555555" stroke-width="0.5"/>
</g>
<g font-family="'Liberation Serif','DejaVu Serif',serif" font-size="6.3" fill="#262626">
<text x="321" y="593.4" text-anchor="end">0</text>
<text x="321" y="571.25" text-anchor="end">500</text>
<text x="321" y="549.1" text-anchor="end">1000</text>
<text x="321" y="526.95" text-anchor="end">1500</text>
<text x="321" y="504.8" text-anchor="end">2000</text>
<text x="409.5" y="642" text-anchor="end"><tspan font-size="7.6">−</tspan><tspan dx="0.3">500</tspan></text>
<text x="391.66" y="633.76" text-anchor="end">0</text>
<text x="373.82" y="625.52" text-anchor="end">500</text>
<text x="355.98" y="617.28" text-anchor="end">1000</text>
<text x="338.14" y="609.04" text-anchor="end">1500</text>
<text x="320.3" y="600.8" text-anchor="end">2000</text>
<text x="419.9" y="642.5"><tspan font-size="7.6">−</tspan><tspan dx="0.3">1500</tspan></text>
<text x="439.07" y="637.27"><tspan font-size="7.6">−</tspan><tspan dx="0.3">1000</tspan></text>
<text x="458.23" y="632.03"><tspan font-size="7.6">−</tspan><tspan dx="0.3">500</tspan></text>
<text x="477.4" y="626.8">0</text>
<text x="496.57" y="621.57">500</text>
<text x="515.73" y="616.33">1000</text>
<text x="534.9" y="611.1">1500</text>
</g>
<g font-family="'Liberation Sans',Arial,sans-serif" font-size="6.8" fill="#151515" stroke="#151515" stroke-width="0.12" text-anchor="middle">
<text x="428.5" y="472.4">Iteration : 846</text>
<text x="472.8" y="644.2">x</text>
<text x="365.5" y="640.9">y</text>
<text transform="translate(302.3 549.6) rotate(-90)" x="0" y="2.4">Steps</text>
</g>
<g font-family="'Liberation Sans',Arial,sans-serif" font-size="5.1" fill="#1a1a1a" text-anchor="middle">
<text transform="translate(408.8 558.5) rotate(-20)" x="0" y="1.0">(<tspan dx="0.2">−</tspan><tspan dx="0.3">6</tspan>85.22,1203.77)</text>
<text transform="translate(444.7 573.9) rotate(-20)" x="0" y="1.0">(<tspan dx="0.2">−</tspan><tspan dx="0.3">5</tspan>85.29,233.92)</text>
<text transform="translate(490.2 565.7) rotate(-20)" x="0" y="1.0">(524.49,87.00)</text>
</g>
<polygon points="384.5,558 385.09,559.49 386.69,559.59 385.45,560.61 385.85,562.16 384.5,561.3 383.15,562.16 383.55,560.61 382.31,559.59 383.91,559.49" fill="#12ee30"/>
<g fill="#ff0000">
<circle cx="384.8" cy="560.6" r="2.1"/>
<circle cx="399.7" cy="567.5" r="1.7"/>
<circle cx="423.2" cy="575.5" r="2.1"/>
<circle cx="465.2" cy="568.2" r="1.7"/>
<circle cx="471.2" cy="566.5" r="2.1"/>
</g>
<text x="414.9" y="666" font-family="'Liberation Sans',Arial,sans-serif" font-size="11.8" fill="#2a2a2a" text-anchor="middle">(6)</text>
<g>
<line x1="121.3" y1="859.2" x2="32.9" y2="817.7" stroke="#dadada" stroke-width="0.5"/>
<line x1="144.44" y1="852.92" x2="56.04" y2="811.42" stroke="#dadada" stroke-width="0.5"/>
<line x1="167.58" y1="846.64" x2="79.18" y2="805.14" stroke="#dadada" stroke-width="0.5"/>
<line x1="190.72" y1="840.36" x2="102.32" y2="798.86" stroke="#dadada" stroke-width="0.5"/>
<line x1="213.86" y1="834.08" x2="125.46" y2="792.58" stroke="#dadada" stroke-width="0.5"/>
<line x1="237" y1="827.8" x2="148.6" y2="786.3" stroke="#dadada" stroke-width="0.5"/>
<line x1="121.3" y1="859.2" x2="237" y2="827.8" stroke="#dadada" stroke-width="0.5"/>
<line x1="103.62" y1="850.9" x2="219.32" y2="819.5" stroke="#dadada" stroke-width="0.5"/>
<line x1="85.94" y1="842.6" x2="201.64" y2="811.2" stroke="#dadada" stroke-width="0.5"/>
<line x1="68.26" y1="834.3" x2="183.96" y2="802.9" stroke="#dadada" stroke-width="0.5"/>
<line x1="50.58" y1="826" x2="166.28" y2="794.6" stroke="#dadada" stroke-width="0.5"/>
<line x1="32.9" y1="817.7" x2="148.6" y2="786.3" stroke="#dadada" stroke-width="0.5"/>
<line x1="32.9" y1="817.7" x2="32.9" y2="728.7" stroke="#dadada" stroke-width="0.5"/>
<line x1="56.04" y1="811.42" x2="56.04" y2="722.42" stroke="#dadada" stroke-width="0.5"/>
<line x1="79.18" y1="805.14" x2="79.18" y2="716.14" stroke="#dadada" stroke-width="0.5"/>
<line x1="102.32" y1="798.86" x2="102.32" y2="709.86" stroke="#dadada" stroke-width="0.5"/>
<line x1="125.46" y1="792.58" x2="125.46" y2="703.58" stroke="#dadada" stroke-width="0.5"/>
<line x1="148.6" y1="786.3" x2="148.6" y2="697.3" stroke="#dadada" stroke-width="0.5"/>
<line x1="32.9" y1="817.7" x2="148.6" y2="786.3" stroke="#dadada" stroke-width="0.5"/>
<line x1="32.9" y1="795.45" x2="148.6" y2="764.05" stroke="#dadada" stroke-width="0.5"/>
<line x1="32.9" y1="773.2" x2="148.6" y2="741.8" stroke="#dadada" stroke-width="0.5"/>
<line x1="32.9" y1="750.95" x2="148.6" y2="719.55" stroke="#dadada" stroke-width="0.5"/>
<line x1="32.9" y1="728.7" x2="148.6" y2="697.3" stroke="#dadada" stroke-width="0.5"/>
<line x1="237" y1="827.8" x2="237" y2="738.8" stroke="#dadada" stroke-width="0.5"/>
<line x1="219.32" y1="819.5" x2="219.32" y2="730.5" stroke="#dadada" stroke-width="0.5"/>
<line x1="201.64" y1="811.2" x2="201.64" y2="722.2" stroke="#dadada" stroke-width="0.5"/>
<line x1="183.96" y1="802.9" x2="183.96" y2="713.9" stroke="#dadada" stroke-width="0.5"/>
<line x1="166.28" y1="794.6" x2="166.28" y2="705.6" stroke="#dadada" stroke-width="0.5"/>
<line x1="148.6" y1="786.3" x2="148.6" y2="697.3" stroke="#dadada" stroke-width="0.5"/>
<line x1="237" y1="827.8" x2="148.6" y2="786.3" stroke="#dadada" stroke-width="0.5"/>
<line x1="237" y1="805.55" x2="148.6" y2="764.05" stroke="#dadada" stroke-width="0.5"/>
<line x1="237" y1="783.3" x2="148.6" y2="741.8" stroke="#dadada" stroke-width="0.5"/>
<line x1="237" y1="761.05" x2="148.6" y2="719.55" stroke="#dadada" stroke-width="0.5"/>
<line x1="237" y1="738.8" x2="148.6" y2="697.3" stroke="#dadada" stroke-width="0.5"/>
<line x1="32.9" y1="817.7" x2="32.9" y2="728.7" stroke="#555555" stroke-width="0.55"/>
<line x1="32.9" y1="817.7" x2="121.3" y2="859.2" stroke="#555555" stroke-width="0.55"/>
<line x1="121.3" y1="859.2" x2="237" y2="827.8" stroke="#555555" stroke-width="0.55"/>
<line x1="32.9" y1="817.7" x2="30.18" y2="816.43" stroke="#555555" stroke-width="0.5"/>
<line x1="32.9" y1="795.45" x2="30.18" y2="794.18" stroke="#555555" stroke-width="0.5"/>
<line x1="32.9" y1="773.2" x2="30.18" y2="771.93" stroke="#555555" stroke-width="0.5"/>
<line x1="32.9" y1="750.95" x2="30.18" y2="749.68" stroke="#555555" stroke-width="0.5"/>
<line x1="32.9" y1="728.7" x2="30.18" y2="727.43" stroke="#555555" stroke-width="0.5"/>
<line x1="121.3" y1="859.2" x2="118.4" y2="859.99" stroke="#555555" stroke-width="0.5"/>
<line x1="103.62" y1="850.9" x2="100.72" y2="851.69" stroke="#555555" stroke-width="0.5"/>
<line x1="85.94" y1="842.6" x2="83.04" y2="843.39" stroke="#555555" stroke-width="0.5"/>
<line x1="68.26" y1="834.3" x2="65.36" y2="835.09" stroke="#555555" stroke-width="0.5"/>
<line x1="50.58" y1="826" x2="47.68" y2="826.79" stroke="#555555" stroke-width="0.5"/>
<line x1="32.9" y1="817.7" x2="30" y2="818.49" stroke="#555555" stroke-width="0.5"/>
<line x1="121.3" y1="859.2" x2="124.02" y2="860.47" stroke="#555555" stroke-width="0.5"/>
<line x1="144.44" y1="852.92" x2="147.16" y2="854.19" stroke="#555555" stroke-width="0.5"/>
<line x1="167.58" y1="846.64" x2="170.3" y2="847.91" stroke="#555555" stroke-width="0.5"/>
<line x1="190.72" y1="840.36" x2="193.44" y2="841.63" stroke="#555555" stroke-width="0.5"/>
<line x1="213.86" y1="834.08" x2="216.58" y2="835.35" stroke="#555555" stroke-width="0.5"/>
<line x1="237" y1="827.8" x2="239.72" y2="829.07" stroke="#555555" stroke-width="0.5"/>
</g>
<g font-family="'Liberation Serif','DejaVu Serif',serif" font-size="6.3" fill="#262626">
<text x="28.3" y="817.6" text-anchor="end">0</text>
<text x="28.3" y="795.35" text-anchor="end">500</text>
<text x="28.3" y="773.1" text-anchor="end">1000</text>
<text x="28.3" y="750.85" text-anchor="end">1500</text>
<text x="28.3" y="728.6" text-anchor="end">2000</text>
<text x="116" y="866.5" text-anchor="end"><tspan font-size="7.6">−</tspan><tspan dx="0.3">500</tspan></text>
<text x="98.32" y="858.2" text-anchor="end">0</text>
<text x="80.64" y="849.9" text-anchor="end">500</text>
<text x="62.96" y="841.6" text-anchor="end">1000</text>
<text x="45.28" y="833.3" text-anchor="end">1500</text>
<text x="27.6" y="825" text-anchor="end">2000</text>
<text x="126.4" y="867"><tspan font-size="7.6">−</tspan><tspan dx="0.3">1500</tspan></text>
<text x="149.54" y="860.72"><tspan font-size="7.6">−</tspan><tspan dx="0.3">1000</tspan></text>
<text x="172.68" y="854.44"><tspan font-size="7.6">−</tspan><tspan dx="0.3">500</tspan></text>
<text x="195.82" y="848.16">0</text>
<text x="218.96" y="841.88">500</text>
<text x="242.1" y="835.6">1000</text>
</g>
<g font-family="'Liberation Sans',Arial,sans-serif" font-size="6.8" fill="#151515" stroke="#151515" stroke-width="0.12" text-anchor="middle">
<text x="135" y="697.2">Iteration : 1528</text>
<text x="179.5" y="869.2">x</text>
<text x="72.5" y="866.4">y</text>
<text transform="translate(9.5 774.1) rotate(-90)" x="0" y="2.4">Steps</text>
</g>
<g font-family="'Liberation Sans',Arial,sans-serif" font-size="5.1" fill="#1a1a1a" text-anchor="middle">
<text transform="translate(75.4 751.6) rotate(-20)" x="0" y="1.0">(<tspan dx="0.2">−</tspan><tspan dx="0.3">1</tspan>088.66,1658.28)</text>
<text transform="translate(139.9 757.9) rotate(-20)" x="0" y="1.0">(<tspan dx="0.2">−</tspan><tspan dx="0.3">3</tspan>61.91,713.34)</text>
<text transform="translate(225.3 755.2) rotate(-20)" x="0" y="1.0">(897.55,<tspan dx="0.2">−</tspan><tspan dx="0.3">9</tspan>1.87)</text>
</g>
<g fill="#ff0000">
<circle cx="64" cy="751" r="2.1"/>
<circle cx="131" cy="757.4" r="2.1"/>
<circle cx="217.6" cy="754.7" r="2.1"/>
</g>
<text x="128" y="891.2" font-family="'Liberation Sans',Arial,sans-serif" font-size="11.8" fill="#2a2a2a" text-anchor="middle">(7)</text>
<g>
<line x1="414.8" y1="859.4" x2="325.6" y2="818.2" stroke="#dadada" stroke-width="0.5"/>
<line x1="433.97" y1="854.18" x2="344.77" y2="812.98" stroke="#dadada" stroke-width="0.5"/>
<line x1="453.13" y1="848.97" x2="363.93" y2="807.77" stroke="#dadada" stroke-width="0.5"/>
<line x1="472.3" y1="843.75" x2="383.1" y2="802.55" stroke="#dadada" stroke-width="0.5"/>
<line x1="491.47" y1="838.53" x2="402.27" y2="797.33" stroke="#dadada" stroke-width="0.5"/>
<line x1="510.63" y1="833.32" x2="421.43" y2="792.12" stroke="#dadada" stroke-width="0.5"/>
<line x1="529.8" y1="828.1" x2="440.6" y2="786.9" stroke="#dadada" stroke-width="0.5"/>
<line x1="414.8" y1="859.4" x2="529.8" y2="828.1" stroke="#dadada" stroke-width="0.5"/>
<line x1="396.96" y1="851.16" x2="511.96" y2="819.86" stroke="#dadada" stroke-width="0.5"/>
<line x1="379.12" y1="842.92" x2="494.12" y2="811.62" stroke="#dadada" stroke-width="0.5"/>
<line x1="361.28" y1="834.68" x2="476.28" y2="803.38" stroke="#dadada" stroke-width="0.5"/>
<line x1="343.44" y1="826.44" x2="458.44" y2="795.14" stroke="#dadada" stroke-width="0.5"/>
<line x1="325.6" y1="818.2" x2="440.6" y2="786.9" stroke="#dadada" stroke-width="0.5"/>
<line x1="325.6" y1="818.2" x2="325.6" y2="729" stroke="#dadada" stroke-width="0.5"/>
<line x1="344.77" y1="812.98" x2="344.77" y2="723.78" stroke="#dadada" stroke-width="0.5"/>
<line x1="363.93" y1="807.77" x2="363.93" y2="718.57" stroke="#dadada" stroke-width="0.5"/>
<line x1="383.1" y1="802.55" x2="383.1" y2="713.35" stroke="#dadada" stroke-width="0.5"/>
<line x1="402.27" y1="797.33" x2="402.27" y2="708.13" stroke="#dadada" stroke-width="0.5"/>
<line x1="421.43" y1="792.12" x2="421.43" y2="702.92" stroke="#dadada" stroke-width="0.5"/>
<line x1="440.6" y1="786.9" x2="440.6" y2="697.7" stroke="#dadada" stroke-width="0.5"/>
<line x1="325.6" y1="818.2" x2="440.6" y2="786.9" stroke="#dadada" stroke-width="0.5"/>
<line x1="325.6" y1="795.9" x2="440.6" y2="764.6" stroke="#dadada" stroke-width="0.5"/>
<line x1="325.6" y1="773.6" x2="440.6" y2="742.3" stroke="#dadada" stroke-width="0.5"/>
<line x1="325.6" y1="751.3" x2="440.6" y2="720" stroke="#dadada" stroke-width="0.5"/>
<line x1="325.6" y1="729" x2="440.6" y2="697.7" stroke="#dadada" stroke-width="0.5"/>
<line x1="529.8" y1="828.1" x2="529.8" y2="738.9" stroke="#dadada" stroke-width="0.5"/>
<line x1="511.96" y1="819.86" x2="511.96" y2="730.66" stroke="#dadada" stroke-width="0.5"/>
<line x1="494.12" y1="811.62" x2="494.12" y2="722.42" stroke="#dadada" stroke-width="0.5"/>
<line x1="476.28" y1="803.38" x2="476.28" y2="714.18" stroke="#dadada" stroke-width="0.5"/>
<line x1="458.44" y1="795.14" x2="458.44" y2="705.94" stroke="#dadada" stroke-width="0.5"/>
<line x1="440.6" y1="786.9" x2="440.6" y2="697.7" stroke="#dadada" stroke-width="0.5"/>
<line x1="529.8" y1="828.1" x2="440.6" y2="786.9" stroke="#dadada" stroke-width="0.5"/>
<line x1="529.8" y1="805.8" x2="440.6" y2="764.6" stroke="#dadada" stroke-width="0.5"/>
<line x1="529.8" y1="783.5" x2="440.6" y2="742.3" stroke="#dadada" stroke-width="0.5"/>
<line x1="529.8" y1="761.2" x2="440.6" y2="720" stroke="#dadada" stroke-width="0.5"/>
<line x1="529.8" y1="738.9" x2="440.6" y2="697.7" stroke="#dadada" stroke-width="0.5"/>
<line x1="325.6" y1="818.2" x2="325.6" y2="729" stroke="#555555" stroke-width="0.55"/>
<line x1="325.6" y1="818.2" x2="414.8" y2="859.4" stroke="#555555" stroke-width="0.55"/>
<line x1="414.8" y1="859.4" x2="529.8" y2="828.1" stroke="#555555" stroke-width="0.55"/>
<line x1="325.6" y1="818.2" x2="322.88" y2="816.94" stroke="#555555" stroke-width="0.5"/>
<line x1="325.6" y1="795.9" x2="322.88" y2="794.64" stroke="#555555" stroke-width="0.5"/>
<line x1="325.6" y1="773.6" x2="322.88" y2="772.34" stroke="#555555" stroke-width="0.5"/>
<line x1="325.6" y1="751.3" x2="322.88" y2="750.04" stroke="#555555" stroke-width="0.5"/>
<line x1="325.6" y1="729" x2="322.88" y2="727.74" stroke="#555555" stroke-width="0.5"/>
<line x1="414.8" y1="859.4" x2="411.91" y2="860.19" stroke="#555555" stroke-width="0.5"/>
<line x1="396.96" y1="851.16" x2="394.07" y2="851.95" stroke="#555555" stroke-width="0.5"/>
<line x1="379.12" y1="842.92" x2="376.23" y2="843.71" stroke="#555555" stroke-width="0.5"/>
<line x1="361.28" y1="834.68" x2="358.39" y2="835.47" stroke="#555555" stroke-width="0.5"/>
<line x1="343.44" y1="826.44" x2="340.55" y2="827.23" stroke="#555555" stroke-width="0.5"/>
<line x1="325.6" y1="818.2" x2="322.71" y2="818.99" stroke="#555555" stroke-width="0.5"/>
<line x1="414.8" y1="859.4" x2="417.52" y2="860.66" stroke="#555555" stroke-width="0.5"/>
<line x1="433.97" y1="854.18" x2="436.69" y2="855.44" stroke="#555555" stroke-width="0.5"/>
<line x1="453.13" y1="848.97" x2="455.86" y2="850.22" stroke="#555555" stroke-width="0.5"/>
<line x1="472.3" y1="843.75" x2="475.02" y2="845.01" stroke="#555555" stroke-width="0.5"/>
<line x1="491.47" y1="838.53" x2="494.19" y2="839.79" stroke="#555555" stroke-width="0.5"/>
<line x1="510.63" y1="833.32" x2="513.36" y2="834.57" stroke="#555555" stroke-width="0.5"/>
<line x1="529.8" y1="828.1" x2="532.52" y2="829.36" stroke="#555555" stroke-width="0.5"/>
</g>
<g font-family="'Liberation Serif','DejaVu Serif',serif" font-size="6.3" fill="#262626">
<text x="321" y="818.1" text-anchor="end">0</text>
<text x="321" y="795.8" text-anchor="end">500</text>
<text x="321" y="773.5" text-anchor="end">1000</text>
<text x="321" y="751.2" text-anchor="end">1500</text>
<text x="321" y="728.9" text-anchor="end">2000</text>
<text x="409.5" y="866.7" text-anchor="end"><tspan font-size="7.6">−</tspan><tspan dx="0.3">500</tspan></text>
<text x="391.66" y="858.46" text-anchor="end">0</text>
<text x="373.82" y="850.22" text-anchor="end">500</text>
<text x="355.98" y="841.98" text-anchor="end">1000</text>
<text x="338.14" y="833.74" text-anchor="end">1500</text>
<text x="320.3" y="825.5" text-anchor="end">2000</text>
<text x="419.9" y="867.2"><tspan font-size="7.6">−</tspan><tspan dx="0.3">1500</tspan></text>
<text x="439.07" y="861.98"><tspan font-size="7.6">−</tspan><tspan dx="0.3">1000</tspan></text>
<text x="458.23" y="856.77"><tspan font-size="7.6">−</tspan><tspan dx="0.3">500</tspan></text>
<text x="477.4" y="851.55">0</text>
<text x="496.57" y="846.33">500</text>
<text x="515.73" y="841.12">1000</text>
<text x="534.9" y="835.9">1500</text>
</g>
<g font-family="'Liberation Sans',Arial,sans-serif" font-size="6.8" fill="#151515" stroke="#151515" stroke-width="0.12" text-anchor="middle">
<text x="427.5" y="697.2">Iteration : 2000</text>
<text x="472.8" y="868.4">x</text>
<text x="365.5" y="865.9">y</text>
<text transform="translate(302.3 774.1) rotate(-90)" x="0" y="2.4">Steps</text>
</g>
<g font-family="'Liberation Sans',Arial,sans-serif" font-size="5.1" fill="#1a1a1a" text-anchor="middle">
<text transform="translate(348 727.8) rotate(-20)" x="0" y="1.0">(<tspan dx="0.2">−</tspan><tspan dx="0.3">1</tspan>367.87,1972.84)</text>
<text transform="translate(423.7 731.8) rotate(-20)" x="0" y="1.0">(<tspan dx="0.2">−</tspan><tspan dx="0.3">2</tspan>07.31,1045.15)</text>
<text transform="translate(520.4 737.5) rotate(-20)" x="0" y="1.0">(1155.73,<tspan dx="0.2">−</tspan><tspan dx="0.3">2</tspan>15.67)</text>
</g>
<g fill="#ff0000">
<circle cx="331.8" cy="728.6" r="2.1"/>
<circle cx="409.3" cy="732" r="2.1"/>
<circle cx="506.2" cy="738" r="2.1"/>
</g>
<text x="414.9" y="890.9" font-family="'Liberation Sans',Arial,sans-serif" font-size="11.8" fill="#2a2a2a" text-anchor="middle">(8)</text>
</svg>
</body></html>
